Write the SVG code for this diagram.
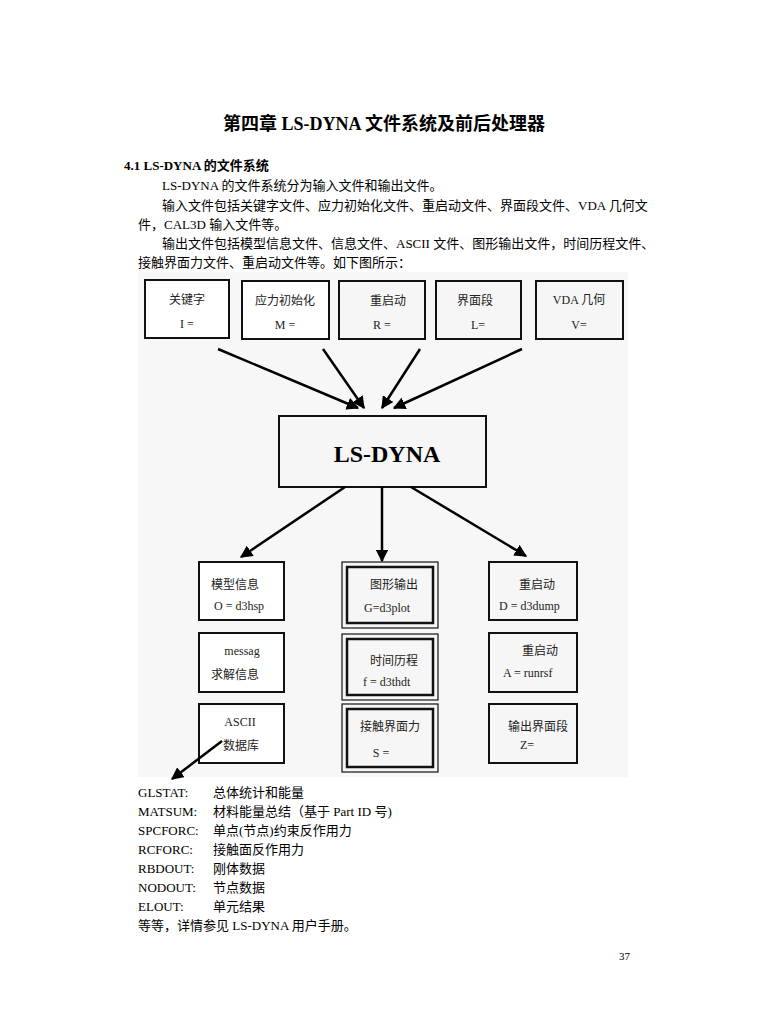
<svg xmlns="http://www.w3.org/2000/svg" width="768" height="1024" viewBox="0 0 768 1024">
<style>
text{font-family:"Liberation Serif","Noto Sans CJK SC",serif;fill:#000}
.b{font-size:13px}
.n{font-size:12px;fill:#222}
.box{fill:#fff;stroke:#111;stroke-width:2}
.gbox{fill:#f6f6f6;stroke:#111;stroke-width:2}
.c line{stroke:#000;stroke-width:2.5}
</style>
<defs><marker id="a" viewBox="0 0 10 10" refX="9" refY="5" markerWidth="5" markerHeight="5" orient="auto"><path d="M0,0L10,5L0,10z" fill="#000"/></marker></defs>
<rect width="768" height="1024" fill="#fff"/>
<text x="384" y="130" text-anchor="middle" font-size="18" font-weight="bold">第四章  LS-DYNA 文件系统及前后处理器</text>
<text x="124" y="170" font-size="13" font-weight="bold">4.1 LS-DYNA 的文件系统</text>
<text x="162" y="190" class="b">LS-DYNA 的文件系统分为输入文件和输出文件。</text>
<text x="162" y="210" class="b">输入文件包括关键字文件、应力初始化文件、重启动文件、界面段文件、VDA 几何文</text>
<text x="138" y="229" class="b">件，CAL3D 输入文件等。</text>
<text x="162" y="248" class="b">输出文件包括模型信息文件、信息文件、ASCII 文件、图形输出文件，时间历程文件、</text>
<text x="138" y="267" class="b">接触界面力文件、重启动文件等。如下图所示：</text>
<rect x="138" y="272" width="490" height="505" fill="#f7f7f7"/>
<g id="n1"><rect class="box" x="145" y="280" width="84" height="58"/><text x="187" y="304" class="n" text-anchor="middle">关键字</text><text x="187" y="328" class="n" text-anchor="middle">I =</text></g>
<g id="n2"><rect class="box" x="242" y="281" width="87" height="58"/><text x="285" y="305" class="n" text-anchor="middle">应力初始化</text><text x="285" y="329" class="n" text-anchor="middle">M =</text></g>
<g id="n3"><rect class="gbox" x="339" y="281" width="86" height="58"/><text x="388" y="305" class="n" text-anchor="middle">重启动</text><text x="382" y="329" class="n" text-anchor="middle">R =</text></g>
<g id="n4"><rect class="gbox" x="436" y="281" width="85" height="58"/><text x="475" y="305" class="n" text-anchor="middle">界面段</text><text x="478" y="329" class="n" text-anchor="middle">L=</text></g>
<g id="n5"><rect class="gbox" x="536" y="281" width="87" height="58"/><text x="579" y="304" class="n" text-anchor="middle">VDA 几何</text><text x="579" y="329" class="n" text-anchor="middle">V=</text></g>
<g id="core"><rect class="gbox" x="279" y="416" width="207" height="71"/><text x="387" y="462" text-anchor="middle" font-size="24" font-weight="bold">LS-DYNA</text></g>
<g id="o1"><rect class="box" x="199" y="562" width="85" height="58"/><text x="211" y="589" class="n">模型信息</text><text x="214" y="610" class="n">O = d3hsp</text></g>
<g id="o2"><rect class="box" x="199" y="633" width="85" height="59"/><text x="242" y="655" class="n" text-anchor="middle">messag</text><text x="211" y="679" class="n">求解信息</text></g>
<g id="o3"><rect class="box" x="199" y="704" width="85" height="59"/><text x="240" y="726" class="n" text-anchor="middle">ASCII</text><text x="223" y="750" class="n">数据库</text></g>
<g id="o4"><rect fill="#f6f6f6" stroke="#111" stroke-width="1.2" x="342" y="562" width="96" height="66"/><rect fill="none" stroke="#111" stroke-width="2.5" x="347" y="567" width="86" height="56"/><text x="370" y="589" class="n">图形输出</text><text x="364" y="612" class="n">G=d3plot</text></g>
<g id="o5"><rect fill="#f6f6f6" stroke="#111" stroke-width="1.2" x="342" y="634" width="96" height="66"/><rect fill="none" stroke="#111" stroke-width="2.5" x="347" y="639" width="86" height="56"/><text x="370" y="665" class="n">时间历程</text><text x="363" y="686" class="n">f = d3thdt</text></g>
<g id="o6"><rect fill="#f6f6f6" stroke="#111" stroke-width="1.2" x="342" y="704" width="96" height="68"/><rect fill="none" stroke="#111" stroke-width="2.5" x="347" y="709" width="86" height="58"/><text x="360" y="731" class="n">接触界面力</text><text x="381" y="757" class="n" text-anchor="middle">S =</text></g>
<g id="o7"><rect class="gbox" x="489" y="562" width="88" height="58"/><text x="519" y="589" class="n">重启动</text><text x="499" y="610" class="n">D = d3dump</text></g>
<g id="o8"><rect class="gbox" x="489" y="633" width="88" height="59"/><text x="522" y="655" class="n">重启动</text><text x="503" y="677" class="n">A = runrsf</text></g>
<g id="o9"><rect class="gbox" x="489" y="704" width="88" height="59"/><text x="508" y="731" class="n">输出界面段</text><text x="520" y="749" class="n">Z=</text></g>
<g class="c">
<line x1="218" y1="349" x2="358" y2="408" marker-end="url(#a)"/>
<line x1="323" y1="349" x2="364" y2="408" marker-end="url(#a)"/>
<line x1="420" y1="349" x2="382" y2="408" marker-end="url(#a)"/>
<line x1="522" y1="349" x2="394" y2="408" marker-end="url(#a)"/>
<line x1="345" y1="487" x2="241" y2="557" marker-end="url(#a)"/>
<line x1="382" y1="487" x2="382" y2="561" marker-end="url(#a)"/>
<line x1="411" y1="487" x2="526" y2="556" marker-end="url(#a)"/>
<line x1="222" y1="741" x2="172" y2="779" marker-end="url(#a)"/>
</g>
<g class="b">
<text x="138" y="797">GLSTAT:</text><text x="213" y="797">总体统计和能量</text>
<text x="138" y="816">MATSUM:</text><text x="213" y="816">材料能量总结（基于 Part ID 号)</text>
<text x="138" y="835">SPCFORC:</text><text x="213" y="835">单点(节点)约束反作用力</text>
<text x="138" y="854">RCFORC:</text><text x="213" y="854">接触面反作用力</text>
<text x="138" y="873">RBDOUT:</text><text x="213" y="873">刚体数据</text>
<text x="138" y="892">NODOUT:</text><text x="213" y="892">节点数据</text>
<text x="138" y="911">ELOUT:</text><text x="213" y="911">单元结果</text>
<text x="138" y="930">等等，详情参见 LS-DYNA 用户手册。</text>
</g>
<text x="630" y="960" font-size="11" text-anchor="end">37</text>
</svg>
